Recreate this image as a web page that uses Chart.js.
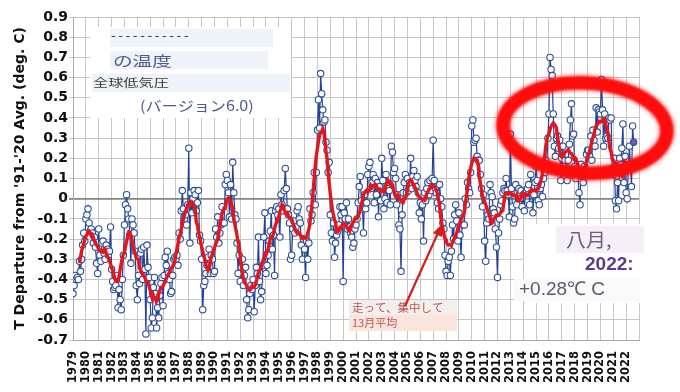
<!DOCTYPE html>
<html>
<head>
<meta charset="utf-8">
<script src="https://cdn.jsdelivr.net/npm/chart.js@4.4.1/dist/chart.umd.min.js"></script>
<style>
  html, body { margin: 0; padding: 0; background: #fff; }
  canvas { display: block; }
</style>
</head>
<body>
<canvas id="uah" width="680" height="392"></canvas>
<script>
// UAH global lower troposphere, monthly departure from 1991-2020 mean (deg C), Jan 1979 .. Aug 2022
const startYear = 1979;
const tlt = [
  -0.47,-0.43,-0.38,-0.40,-0.39,-0.40,-0.31,-0.36,-0.30,-0.23,-0.17,-0.21, // 1979
  -0.10,-0.08,-0.05,-0.12,-0.16,-0.15,-0.17,-0.22,-0.19,-0.24,-0.32,-0.37, // 1980
  -0.15,-0.28,-0.31,-0.22,-0.21,-0.27,-0.30,-0.23,-0.25,-0.28,-0.26,-0.14, // 1981
  -0.35,-0.41,-0.45,-0.44,-0.43,-0.38,-0.54,-0.45,-0.50,-0.55,-0.40,-0.28, // 1982
  -0.13,-0.03, 0.02,-0.05,-0.10,-0.18,-0.32,-0.10,-0.13,-0.17,-0.26,-0.43, // 1983
  -0.50,-0.38,-0.42,-0.27,-0.25,-0.40,-0.24,-0.35,-0.67,-0.23,-0.34,-0.39, // 1984
  -0.50,-0.64,-0.59,-0.44,-0.39,-0.47,-0.64,-0.54,-0.59,-0.48,-0.42,-0.39, // 1985
  -0.53,-0.38,-0.29,-0.33,-0.26,-0.37,-0.40,-0.47,-0.46,-0.38,-0.30,-0.29, // 1986
  -0.30,-0.28,-0.33,-0.17,-0.20,-0.06, 0.04,-0.05,-0.10,-0.08,-0.13,-0.03, // 1987
   0.25,-0.22, 0.03,-0.07, 0.00, 0.04, 0.02,-0.06,-0.02, 0.04,-0.18,-0.21, // 1988
  -0.30,-0.55,-0.43,-0.41,-0.37,-0.33,-0.29,-0.25,-0.37,-0.28,-0.30,-0.37, // 1989
  -0.36,-0.15,-0.19,-0.09,-0.22,-0.17,-0.13,-0.04,-0.12,-0.12, 0.07, 0.12, // 1990
   0.09, 0.03,-0.09, 0.07,-0.10, 0.18, 0.03,-0.08,-0.10,-0.22,-0.37,-0.28, // 1991
  -0.41,-0.34,-0.30,-0.43,-0.38,-0.34,-0.50,-0.59,-0.55,-0.47,-0.43,-0.45, // 1992
  -0.40,-0.56,-0.43,-0.34,-0.37,-0.19,-0.41,-0.50,-0.46,-0.33,-0.19,-0.07, // 1993
  -0.37,-0.33,-0.28,-0.21,-0.16,-0.06,-0.25,-0.18,-0.38,-0.06,-0.04,-0.08, // 1994
  -0.05,-0.19, 0.02,-0.03,-0.06, 0.04, 0.15, 0.05,-0.05,-0.08,-0.12,-0.30, // 1995
  -0.28,-0.15,-0.11,-0.17,-0.14,-0.06,-0.04,-0.10,-0.12,-0.23,-0.30,-0.20, // 1996
  -0.25,-0.39,-0.21,-0.30,-0.22,-0.05,-0.11,-0.08, 0.03, 0.13,-0.03, 0.13, // 1997
   0.34, 0.49, 0.35, 0.62, 0.52, 0.44, 0.38, 0.39, 0.28, 0.24, 0.13, 0.18, // 1998
  -0.08,-0.17,-0.21,-0.12,-0.29,-0.22,-0.18,-0.16,-0.13,-0.04,-0.08,-0.04, // 1999
  -0.41,-0.07,-0.10,-0.02,-0.15,-0.10,-0.14,-0.17,-0.19,-0.24,-0.22,-0.15, // 2000
  -0.13,-0.10,-0.02, 0.06, 0.11,-0.01,-0.05,-0.17, 0.02,-0.05,-0.02, 0.12, // 2001
   0.16, 0.18, 0.05, 0.08, 0.12,-0.02, 0.10, 0.02, 0.08,-0.09, 0.06,-0.01, // 2002
   0.20, 0.09,-0.05, 0.00, 0.12,-0.02, 0.05, 0.04,-0.03, 0.26, 0.23, 0.13, // 2003
   0.15, 0.10,-0.03, 0.02,-0.13,-0.15,-0.36,-0.08, 0.03, 0.08, 0.12, 0.03, // 2004
   0.10, 0.04, 0.08, 0.20, 0.05, 0.11, 0.14, 0.09, 0.06, 0.11, 0.03,-0.07, // 2005
  -0.02,-0.10,-0.03,-0.21, 0.03,-0.01, 0.05, 0.08, 0.02, 0.09, 0.04, 0.10, // 2006
   0.29, 0.09, 0.05, 0.03,-0.02,-0.05, 0.07, 0.00,-0.04,-0.12,-0.15,-0.28, // 2007
  -0.36,-0.38,-0.31,-0.29,-0.38,-0.26,-0.13,-0.20,-0.08,-0.03,-0.11,-0.21, // 2008
  -0.07,-0.18,-0.29,-0.12,-0.13,-0.13, 0.00,-0.03, 0.08, 0.05, 0.03, 0.13, // 2009
   0.36, 0.39, 0.28, 0.29, 0.30, 0.21, 0.19, 0.19, 0.12, 0.05,-0.04, 0.02, // 2010
  -0.21,-0.31,-0.12,-0.08,-0.10, 0.07, 0.03, 0.01,-0.05,-0.07,-0.15,-0.24, // 2011
  -0.39,-0.17,-0.10,-0.03,-0.01, 0.03, 0.05, 0.04, 0.10, 0.04, 0.02,-0.09, // 2012
   0.32, 0.05,-0.04,-0.12,-0.10, 0.07,-0.03, 0.03, 0.05, 0.00, 0.04,-0.04, // 2013
   0.02,-0.06, 0.03, 0.04, 0.05, 0.07,-0.03, 0.12, 0.03,-0.07, 0.02, 0.08, // 2014
   0.16, 0.09,-0.01,-0.03, 0.05, 0.07, 0.01, 0.10, 0.13, 0.19, 0.17, 0.30, // 2015
   0.42, 0.70, 0.64, 0.61, 0.42, 0.26, 0.21, 0.30, 0.31, 0.25, 0.29, 0.09, // 2016
   0.20, 0.26, 0.16, 0.19, 0.14, 0.09, 0.19, 0.27, 0.39, 0.47, 0.31, 0.32, // 2017
   0.16, 0.10, 0.15, 0.13, 0.03,-0.03, 0.17, 0.12, 0.08, 0.16, 0.13, 0.22, // 2018
   0.24, 0.24, 0.21, 0.31, 0.19, 0.34, 0.29, 0.26, 0.45, 0.33, 0.44, 0.43, // 2019
   0.42, 0.59, 0.44, 0.26, 0.42, 0.30, 0.31, 0.30, 0.40, 0.39, 0.40, 0.15, // 2020
   0.12, 0.20,-0.01,-0.05, 0.08,-0.01, 0.20, 0.17, 0.25, 0.37, 0.08, 0.21, // 2021
   0.03, 0.00, 0.15, 0.26, 0.17, 0.06, 0.36, 0.28                          // 2022
];

const yearLabels = ['1979','1980','1981','1982','1983','1984','1985','1986','1987','1988','1989',
  '1990','1991','1992','1993','1994','1995','1996','1997','1998','1999','2000','2001','2002',
  '2003','2004','2005','2006','2007','2008','2009','2010','2011','2012','2013','2014','2015',
  '2016','2017','2018','2019','2020','2021','2022'];
const endYear = 2023;
const yTicks = [-0.7,-0.6,-0.5,-0.4,-0.3,-0.2,-0.1,0,0.1,0.2,0.3,0.4,0.5,0.6,0.7,0.8,0.9];

const monthly = tlt.map((v, i) => ({ x: startYear + i / 12, y: v }));

// centred 13 month average, as in the original plot
const avg13 = [];
for (let i = 6; i < tlt.length - 6; i++) {
    let sum = 0;
    for (let k = i - 6; k <= i + 6; k++) sum += tlt[k];
    avg13.push({ x: startYear + i / 12, y: sum / 13 });
}

const gridYears = yearLabels.map(Number).concat([endYear]);

function wideText(ctx, text, x, y, font, color, sx) {
    ctx.save();
    ctx.translate(x, y);
    ctx.scale(sx, 1);
    ctx.font = font;
    ctx.fillStyle = color;
    ctx.textBaseline = 'middle';
    ctx.fillText(text, 0, 0);
    ctx.restore();
}

// the pasted text boxes sit over the grid but under the data
const textBoxes = {
    id: 'textBoxes',
    beforeDatasetsDraw(chart) {
        const ctx = chart.ctx;
        ctx.save();
        ctx.fillStyle = '#ffffff';
        ctx.fillRect(90, 27, 201, 91);
        ctx.fillStyle = '#edf3f8';
        ctx.fillRect(110, 29, 163, 18);
        ctx.fillRect(110, 51, 158, 18);
        ctx.fillRect(92, 74, 198, 18);

        ctx.fillStyle = '#ffffff';
        ctx.fillRect(524, 224, 117, 79);
        ctx.fillStyle = '#f7eff7';
        ctx.fillRect(556, 226, 88, 27);
        ctx.fillStyle = '#fbfafa';
        ctx.fillRect(514, 279, 126, 22);

        ctx.fillStyle = '#f2eeee';
        ctx.fillRect(349, 300, 108, 15);
        ctx.fillStyle = '#fbe4dd';
        ctx.fillRect(349, 315, 108, 16);
        ctx.restore();

        ctx.save();
        ctx.letterSpacing = '2.6px';
        wideText(ctx, '-----------', 111, 37, '13px "DejaVu Sans"', '#2e3f6e', 1);
        ctx.restore();
        wideText(ctx, 'の温度', 113, 61, '14px "Noto Sans CJK JP"', '#4b5b8b', 1.4);
        wideText(ctx, '全球低気圧', 93, 83, '11px "Noto Sans CJK JP"', '#3a3a3a', 1.38);
        wideText(ctx, '(バージョン6.0)', 140, 106, '14px "Noto Sans CJK JP"', '#4b5b8b', 1.15);

        wideText(ctx, '八月,', 566, 240, '19px "Noto Sans CJK JP"', '#6c5d80', 1.05);
        wideText(ctx, '2022:', 585, 265, 'bold 19px "Liberation Sans"', '#5b3b8c', 1);
        wideText(ctx, '+0.28℃ C', 519, 290, '19px "Liberation Sans"', '#5a5a6e', 1);

        wideText(ctx, '走って、集中して', 352, 308, '11.5px "Noto Sans CJK JP"', '#c0574d', 1);
        wideText(ctx, '13月平均', 352, 323, '11px "Noto Sans CJK JP"', '#c0574d', 1);
    }
};

const markup = {
    id: 'markup',
    afterDraw(chart) {
        const ctx = chart.ctx;
        const xs = chart.scales.x;

        // year labels, reading bottom to top
        ctx.save();
        ctx.font = 'bold 11.5px "DejaVu Sans"';
        ctx.fillStyle = '#111';
        ctx.textAlign = 'right';
        ctx.textBaseline = 'middle';
        for (const lbl of yearLabels) {
            const px = xs.getPixelForValue(Number(lbl));
            ctx.save();
            ctx.translate(px, 351);
            ctx.rotate(-Math.PI / 2);
            ctx.fillText(lbl, 0, 0);
            ctx.restore();
        }
        ctx.restore();

        // arrow to the running mean
        ctx.save();
        ctx.strokeStyle = '#d21d1d';
        ctx.fillStyle = '#d21d1d';
        ctx.lineWidth = 2.2;
        ctx.beginPath();
        ctx.moveTo(405, 306);
        ctx.lineTo(438, 233);
        ctx.stroke();
        ctx.beginPath();
        ctx.moveTo(443, 223);
        ctx.lineTo(433, 233);
        ctx.lineTo(442, 237);
        ctx.closePath();
        ctx.fill();
        ctx.restore();

        // hand drawn red ring
        ctx.save();
        ctx.filter = 'blur(1.2px)';
        ctx.shadowColor = 'rgba(255,0,0,0.8)';
        ctx.shadowBlur = 5;
        ctx.strokeStyle = '#ff0d0d';
        ctx.lineWidth = 13;
        ctx.beginPath();
        ctx.ellipse(585, 128, 82, 45, 0.05, 0, Math.PI * 2);
        ctx.stroke();
        ctx.restore();
    }
};

new Chart(document.getElementById('uah'), {
    type: 'line',
    data: {
        datasets: [
            {
                label: '13 month average',
                data: avg13,
                borderColor: '#e3161c',
                borderWidth: 3.4,
                pointRadius: 0,
                tension: 0,
                order: 0,
            },
            {
                label: 'monthly',
                data: monthly,
                borderColor: '#23409a',
                borderWidth: 1.2,
                pointRadius: 3.2,
                pointBorderWidth: 1.1,
                pointBorderColor: '#2d4f98',
                pointBackgroundColor: (c) => c.dataIndex === tlt.length - 1 ? '#6a5cb8' : '#ffffff',
                tension: 0,
                order: 1,
            },
        ],
    },
    options: {
        responsive: false,
        animation: false,
        devicePixelRatio: 1,
        layout: { padding: { top: 17, right: 41, left: 0, bottom: 0 } },
        plugins: {
            legend: { display: false },
            tooltip: { enabled: false },
        },
        scales: {
            x: {
                type: 'linear',
                min: startYear,
                max: endYear,
                afterBuildTicks: (s) => { s.ticks = gridYears.map((v) => ({ value: v })); },
                afterFit: (s) => { s.height = 52; },
                ticks: { display: false },
                grid: { color: '#c6c6c6', drawTicks: false },
                border: { color: '#a9a9a9' },
            },
            y: {
                min: -0.7,
                max: 0.9,
                afterBuildTicks: (s) => { s.ticks = yTicks.map((v) => ({ value: v })); },
                afterFit: (s) => { s.width = 73; },
                ticks: {
                    font: { family: 'DejaVu Sans', weight: 'bold', size: 14 },
                    color: '#111',
                    padding: 1,
                    callback: (v) => v === 0 ? '0' : v.toFixed(1),
                },
                grid: {
                    color: (c) => c.tick && c.tick.value === 0 ? '#858585' : '#c6c6c6',
                    lineWidth: (c) => c.tick && c.tick.value === 0 ? 1.8 : 1,
                    tickLength: 4,
                },
                border: { color: '#a9a9a9' },
                title: {
                    display: true,
                    text: "T Departure from '91-'20 Avg. (deg. C)",
                    font: { family: 'DejaVu Sans', weight: 'bold', size: 14 },
                    color: '#111',
                    padding: { top: 12, bottom: 0 },
                },
            },
        },
    },
    plugins: [textBoxes, markup],
});
</script>
</body>
</html>
